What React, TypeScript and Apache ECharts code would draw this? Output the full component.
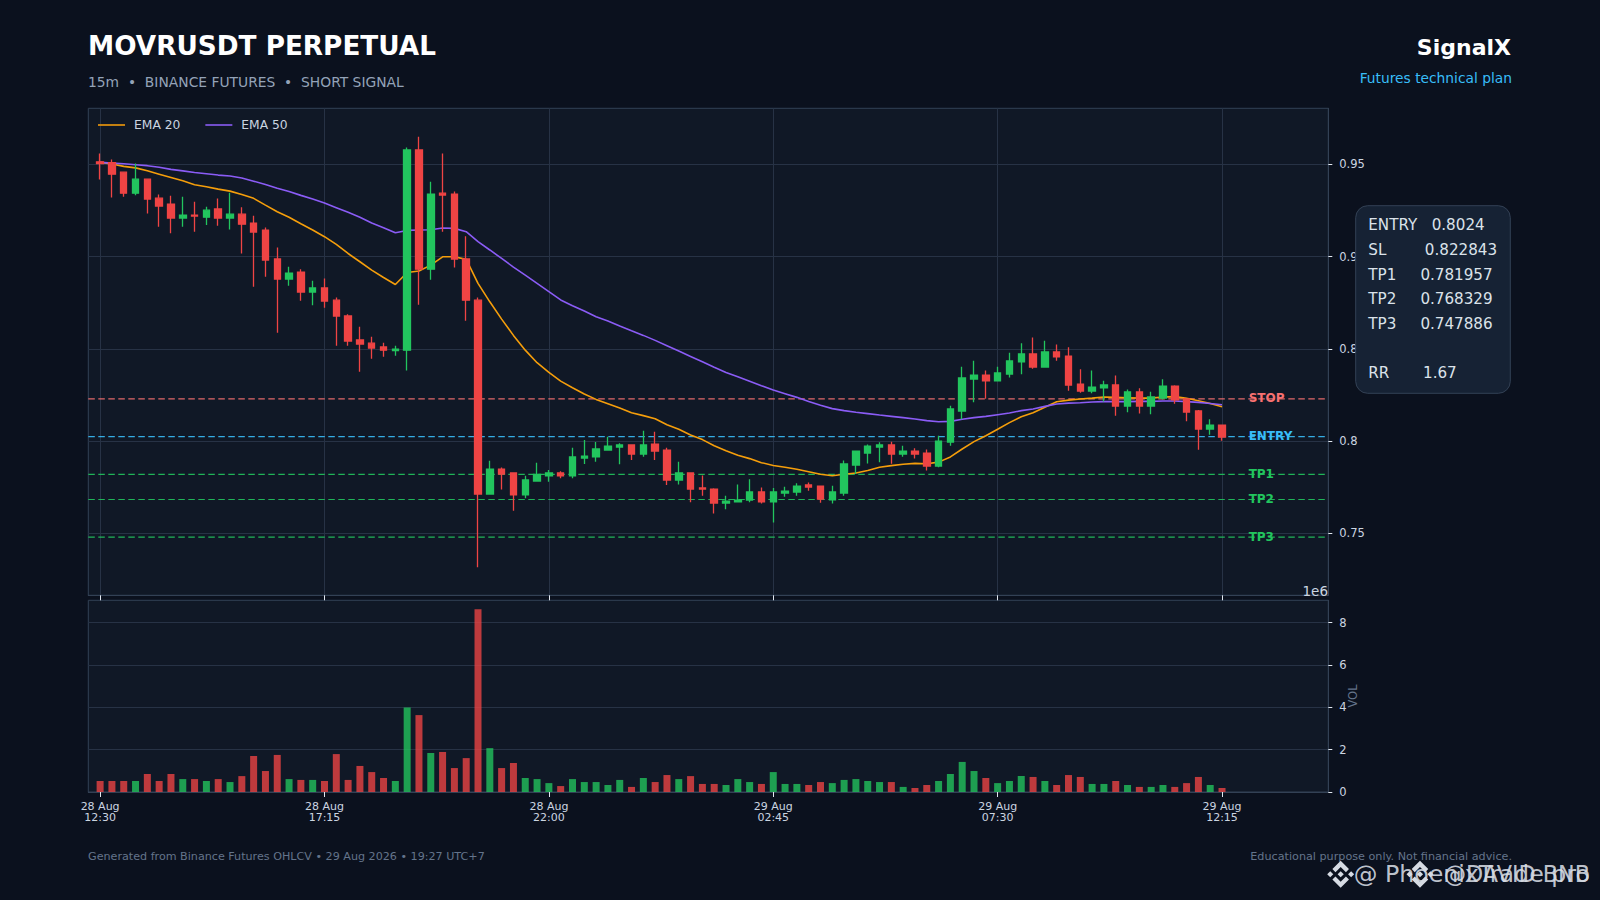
import React, { useEffect, useRef } from "react";
import * as echarts from "echarts";

const FONT = "DejaVu Sans";

const opens = [
  .9514,.9509,.9458,.9344,.9420,.9317,.9285,.9209,.9225,.9214,
  .9258,.9209,.9230,.9182,.9144,.8987,.8878,.8916,.8808,.8830,
  .8764,.8678,.8548,.8531,.8510,.8490,.8493,.9578,.8932,.9344,
  .9339,.8987,.8764,.7713,.7848,.7827,.7708,.7783,.7811,.7827,
  .7811,.7908,.7914,.7951,.7968,.7979,.7930,.7984,.7951,.7789,
  .7827,.7746,.7740,.7664,.7670,.7680,.7724,.7670,.7718,.7724,
  .7762,.7756,.7681,.7718,.7870,.7935,.7968,.7979,.7930,.7946,
  .7935,.7865,.7995,.8163,.8336,.8358,.8326,.8363,.8429,.8472,
  .8401,.8483,.8461,.8309,.8271,.8288,.8304,.8190,.8266,.8190,
  .8233,.8298,.8228,.8163,.8065,.8087,
];
const closes = [
  .9504,.9447,.9344,.9420,.9312,.9274,.9209,.9225,.9220,.9252,
  .9209,.9230,.9176,.9133,.8981,.8878,.8911,.8808,.8830,.8759,
  .8678,.8542,.8526,.8504,.8493,.8499,.9578,.8932,.9339,.9334,
  .8987,.8764,.7713,.7848,.7821,.7708,.7789,.7820,.7827,.7811,
  .7914,.7919,.7957,.7973,.7979,.7930,.7979,.7946,.7789,.7827,
  .7740,.7740,.7664,.7675,.7680,.7724,.7670,.7724,.7729,.7756,
  .7751,.7686,.7724,.7876,.7946,.7973,.7979,.7930,.7946,.7930,
  .7865,.8000,.8174,.8342,.8358,.8326,.8369,.8434,.8472,.8401,
  .8483,.8456,.8304,.8271,.8293,.8304,.8190,.8266,.8190,.8239,
  .8298,.8223,.8157,.8065,.8087,.8022,
];
const lows = [
  .9418,.9321,.9325,.9332,.9234,.9162,.9126,.9162,.9135,.9172,
  .9167,.9147,.9017,.8837,.8891,.8587,.8842,.8761,.8736,.8723,
  .8517,.8517,.8376,.8446,.8457,.8463,.8383,.8739,.8875,.9135,
  .8941,.8652,.7316,.7709,.7738,.7623,.7690,.7780,.7780,.7798,
  .7798,.7876,.7888,.7951,.7874,.7897,.7915,.7897,.7762,.7765,
  .7668,.7704,.7608,.7630,.7668,.7668,.7662,.7559,.7698,.7704,
  .7731,.7666,.7661,.7704,.7821,.7879,.7885,.7877,.7915,.7905,
  .7840,.7858,.7975,.8118,.8210,.8230,.8324,.8345,.8362,.8392,
  .8400,.8436,.8273,.8262,.8259,.8214,.8138,.8156,.8150,.8145,
  .8226,.8203,.8107,.7953,.8035,.8002,
];
const highs = [
  .9559,.9527,.9460,.9505,.9424,.9337,.9330,.9325,.9297,.9270,
  .9315,.9346,.9267,.9221,.9158,.9050,.8945,.8931,.8869,.8882,
  .8779,.8687,.8620,.8566,.8533,.8517,.9592,.9650,.9406,.9559,
  .9353,.9110,.8779,.7894,.7857,.7830,.7812,.7883,.7843,.7836,
  .7964,.8006,.7995,.8024,.7988,.7979,.8056,.8051,.7964,.7888,
  .7827,.7814,.7744,.7704,.7765,.7793,.7749,.7745,.7753,.7771,
  .7776,.7756,.7758,.7895,.7946,.7982,.7993,.7997,.7975,.7961,
  .7955,.8029,.8192,.8403,.8436,.8383,.8403,.8479,.8530,.8562,
  .8544,.8524,.8508,.8389,.8382,.8327,.8356,.8279,.8286,.8268,
  .8335,.8302,.8232,.8168,.8118,.8089,
];
const volumes = [
  .52,.52,.52,.52,.85,.52,.85,.61,.61,.52,
  .61,.47,.75,1.7,.99,1.75,.61,.57,.57,.52,
  1.79,.57,1.23,.94,.66,.52,3.99,3.63,1.84,1.89,
  1.13,1.6,8.63,2.07,1.13,1.37,.66,.61,.42,.28,
  .61,.47,.47,.33,.57,.24,.66,.47,.8,.61,
  .75,.38,.38,.33,.61,.47,.38,.94,.38,.38,
  .33,.47,.42,.57,.61,.52,.47,.47,.24,.19,
  .33,.52,.85,1.42,.99,.66,.42,.52,.75,.71,
  .52,.33,.8,.71,.38,.38,.52,.33,.24,.24,
  .33,.24,.42,.71,.33,.19,
];
const ema20 = [
  .9511,.9502,.9489,.9481,.9465,.9447,.9429,.9411,.9390,.9379,
  .9366,.9355,.9337,.9316,.9279,.9243,.9213,.9178,.9144,.9108,
  .9066,.9017,.8972,.8927,.8887,.8849,.8914,.8922,.8954,.8999,
  .8999,.8985,.8855,.8755,.8661,.8573,.8493,.8425,.8372,.8325,
  .8289,.8255,.8226,.8203,.8179,.8154,.8138,.8121,.8089,.8064,
  .8033,.8008,.7975,.7948,.7923,.7905,.7883,.7868,.7858,.7847,
  .7834,.7820,.7812,.7820,.7827,.7841,.7858,.7867,.7874,.7879,
  .7877,.7886,.7914,.7957,.7997,.8029,.8064,.8100,.8132,.8154,
  .8183,.8213,.8222,.8228,.8233,.8239,.8237,.8235,.8233,.8233,
  .8239,.8241,.8232,.8219,.8204,.8186,
];
const ema50 = [
  .9511,.9507,.9503,.9498,.9493,.9484,.9473,.9465,.9456,.9449,
  .9442,.9437,.9426,.9409,.9391,.9371,.9353,.9332,.9312,.9290,
  .9265,.9240,.9213,.9182,.9157,.9129,.9142,.9144,.9146,.9155,
  .9153,.9135,.9081,.9036,.8990,.8943,.8900,.8855,.8810,.8765,
  .8734,.8705,.8674,.8651,.8624,.8598,.8573,.8546,.8517,.8488,
  .8459,.8430,.8400,.8372,.8349,.8325,.8300,.8277,.8257,.8237,
  .8215,.8194,.8176,.8165,.8156,.8149,.8141,.8134,.8127,.8120,
  .8111,.8105,.8107,.8118,.8127,.8134,.8143,.8152,.8165,.8174,
  .8188,.8201,.8206,.8208,.8212,.8214,.8214,.8214,.8215,.8215,
  .8217,.8217,.8214,.8210,.8204,.8197,
];

const levelNames = ["STOP", "ENTRY", "TP1", "TP2", "TP3"];
const levelValues = [0.822843, 0.8024, 0.781957, 0.768329, 0.747886];
const levelColors = ["#f87171", "#38bdf8", "#22c55e", "#22c55e", "#22c55e"];

// one x position per 15-minute slot; the axis runs one slot before the first candle and 8 beyond the last
const axisSlots = ["12:15 pad"];
const tickLabels = [
  "28 Aug\n12:30", "28 Aug\n17:15", "28 Aug\n22:00",
  "29 Aug\n02:45", "29 Aug\n07:30", "29 Aug\n12:15",
];
const TICK_EVERY = 19;
for (let i = 0; i < 105; i++) {
  axisSlots.push(i % TICK_EVERY === 0 && tickLabels[i / TICK_EVERY] ? tickLabels[i / TICK_EVERY] : "slot" + i);
}
const isTickSlot = (index: number) => (index - 1) % TICK_EVERY === 0 && index >= 1 && index <= 96;

const panelLines = [
  "ENTRY   0.8024",
  "SL        0.822843",
  "TP1     0.781957",
  "TP2     0.768329",
  "TP3     0.747886",
  "",
  "RR       1.67",
];
const priceTicks = [0.75, 0.8, 0.85, 0.9, 0.95];
const volumeTicks = [0, 2, 4, 6, 8];

const BG = "#0b111e";
const PLOT = "#101826";
const SPINE = "#334155";
const GRIDLINE = "#273245";
const TEXT = "#cbd5e1";
const UP = "#22c55e";
const DOWN = "#ef4444";

const LOGO =
  "M38.73 53.2l24.59-24.58 24.6 24.6 14.3-14.31L63.32 0 24.43 38.9l14.3 14.3zM0 63.31l14.3-14.31 14.31 14.31-14.31 14.3zM38.73 73.41l24.59 24.59 24.6-24.6 14.31 14.29-38.9 38.91-38.91-38.88v-.03l14.31-14.28zM98 63.31l14.3-14.3 14.31 14.3-14.31 14.31zM77.83 63.3L63.32 48.78 52.59 59.51l-1.24 1.23-2.54 2.54 14.51 14.5 14.51-14.47z";
echarts.graphic.registerShape("binanceLogo", echarts.graphic.extendPath(LOGO as any, {} as any));

function buildOption(): any {
  const gridFor = (i: number) => ({ xAxisIndex: i, yAxisIndex: i });
  const candleData: any[] = [["-", "-", "-", "-"]];
  opens.forEach((o, i) => candleData.push([o, closes[i], lows[i], highs[i]]));
  const volumeData: any[] = ["-"];
  volumes.forEach((v, i) =>
    volumeData.push({
      value: v,
      itemStyle: { color: closes[i] >= opens[i] ? UP : DOWN, opacity: 0.78 },
    })
  );
  const xAxis = (gridIndex: number, showLabel: boolean) => ({
    type: "category",
    gridIndex,
    data: axisSlots,
    boundaryGap: false,
    axisLine: { show: true, lineStyle: { color: SPINE, width: 1 } },
    axisTick: {
      show: true,
      length: 5,
      interval: (i: number) => isTickSlot(i),
      lineStyle: { color: "#e2e8f0", width: 1 },
    },
    splitLine: {
      show: gridIndex === 0 || false,
      interval: (i: number) => isTickSlot(i),
      lineStyle: { color: GRIDLINE, width: 1 },
    },
    axisLabel: {
      show: showLabel,
      interval: (i: number) => isTickSlot(i),
      color: TEXT,
      fontSize: 11,
      lineHeight: 11,
      margin: 9,
      fontFamily: FONT,
      hideOverlap: false,
    },
  });
  const yAxis = (gridIndex: number, min: number, max: number, ticks: number[]) => ({
    type: "value",
    gridIndex,
    position: "right",
    min,
    max,
    scale: true,
    axisLine: { show: true, lineStyle: { color: SPINE, width: 1 } },
    axisTick: { show: true, length: 4, customValues: ticks, lineStyle: { color: "#e2e8f0", width: 1 } },
    splitLine: { show: true, lineStyle: { color: GRIDLINE, width: 1 } },
    axisLabel: {
      customValues: ticks,
      formatter: (v: number) => String(v),
      color: TEXT,
      fontSize: 11.5,
      margin: 11,
      fontFamily: FONT,
      showMinLabel: true,
      showMaxLabel: true,
    },
  });

  const levelSeries = levelNames.map((name, k) => ({
    name,
    type: "line",
    ...gridFor(0),
    z: 1,
    silent: true,
    symbol: "none",
    data: axisSlots.map(() => levelValues[k]),
    lineStyle: { color: levelColors[k], width: 1.2, type: [6.5, 3.5], opacity: 0.9 },
    markPoint: {
      silent: true,
      symbol: "circle",
      symbolSize: 0,
      data: [{ coord: [98, levelValues[k]] }],
      label: {
        show: true,
        position: "right",
        distance: 3,
        offset: [0, -0.5],
        formatter: name,
        color: levelColors[k],
        fontSize: 12,
        fontWeight: "bold",
        fontFamily: FONT,
      },
    },
  }));

  const textAt = (x: number, y: number, text: string, fill: string, font: string, align = "left", z = 20, extra: any = {}) => ({
    type: "text",
    x,
    y,
    z,
    silent: true,
    style: { text, fill, font, textAlign: align, textVerticalAlign: "middle", ...extra },
  });

  return {
    animation: false,
    backgroundColor: BG,
    textStyle: { fontFamily: FONT },
    legend: {
      data: ["EMA 20", "EMA 50"],
      left: 98,
      top: 119,
      padding: 0,
      icon: "rect",
      itemWidth: 27,
      itemHeight: 1.8,
      itemGap: 25,
      selectedMode: false,
      textStyle: { color: TEXT, fontSize: 12.3, fontFamily: FONT, padding: [0, 0, 0, 4] },
    },
    grid: [
      { left: 88.3, top: 108.3, width: 1240, height: 487, show: true, backgroundColor: PLOT, borderColor: SPINE, borderWidth: 1 },
      { left: 88.3, top: 600.3, width: 1240, height: 191.7, show: true, backgroundColor: PLOT, borderColor: SPINE, borderWidth: 1 },
    ],
    xAxis: [xAxis(0, false), xAxis(1, true)],
    yAxis: [
      yAxis(0, 0.7164, 0.9804, priceTicks),
      yAxis(1, 0, 9.05, volumeTicks),
    ],
    series: [
      ...levelSeries,
      {
        name: "EMA 20",
        type: "line",
        ...gridFor(0),
        z: 2,
        symbol: "none",
        data: ["-", ...ema20],
        itemStyle: { color: "#d98c0e" },
        lineStyle: { color: "#f59e0b", width: 1.6 },
      },
      {
        name: "EMA 50",
        type: "line",
        ...gridFor(0),
        z: 3,
        symbol: "none",
        data: ["-", ...ema50],
        itemStyle: { color: "#7c54dc" },
        lineStyle: { color: "#8b5cf6", width: 1.6 },
      },
      {
        name: "Price",
        type: "candlestick",
        ...gridFor(0),
        z: 4,
        barWidth: 7,
        data: candleData,
        itemStyle: {
          color: UP,
          color0: DOWN,
          borderColor: UP,
          borderColor0: DOWN,
          borderColorDoji: DOWN,
          borderWidth: 1.3,
        },
      },
      {
        name: "Volume",
        type: "bar",
        ...gridFor(1),
        barWidth: 7,
        data: volumeData,
      },
    ],
    graphic: {
      elements: [
        textAt(88, 46, "MOVRUSDT PERPETUAL", "#ffffff", `bold 26.3px '${FONT}'`),
        textAt(88, 81.5, "15m  \u2022  BINANCE FUTURES  \u2022  SHORT SIGNAL", "#94a3b8", `13.85px '${FONT}'`),
        textAt(1511, 47, "SignalX", "#ffffff", `bold 22px '${FONT}'`, "right"),
        textAt(1512, 78, "Futures technical plan", "#38bdf8", `13.8px '${FONT}'`, "right"),
        {
          type: "rect",
          z: 15,
          silent: true,
          shape: { x: 1355.7, y: 205.7, width: 154.6, height: 187.6, r: 12 },
          style: { fill: "#162234", stroke: SPINE, lineWidth: 1 },
        },
        ...panelLines.map((line, i) =>
          textAt(1368.3, 225.4 + i * 24.6, line, "#dbe2ea", `15.15px '${FONT}'`, "left", 16)
        ),
        textAt(1328, 591, "1e6", TEXT, `13.5px '${FONT}'`, "right"),
        {
          type: "text",
          x: 1353,
          y: 696,
          z: 20,
          silent: true,
          rotation: Math.PI / 2,
          style: { text: "VOL", fill: "#64748b", font: `11.5px '${FONT}'`, textAlign: "center", textVerticalAlign: "middle" },
        },
        textAt(88, 856, "Generated from Binance Futures OHLCV \u2022 29 Aug 2026 \u2022 19:27 UTC+7", "#64748b", `11.15px '${FONT}'`),
        textAt(1512, 856, "Educational purpose only. Not financial advice.", "#64748b", `11.2px '${FONT}'`, "right"),
        {
          type: "binanceLogo",
          x: 1327.2,
          y: 860.8,
          scaleX: 0.213,
          scaleY: 0.213,
          z: 21,
          silent: true,
          style: { fill: "#d6dbe3" },
        },
        {
          type: "binanceLogo",
          x: 1406.5,
          y: 860.8,
          scaleX: 0.213,
          scaleY: 0.213,
          z: 21,
          silent: true,
          style: { fill: "#d6dbe3" },
        },
        textAt(1590, 874, "@ PhoenixTrade pro", "#d6dbe3", `23.7px '${FONT}'`, "right", 21, { opacity: 0.9 }),
        textAt(1590, 874, "@DAVID BNB", "#d6dbe3", `22.3px '${FONT}'`, "right", 21, { opacity: 0.9 }),
      ],
    },
  };
}

export default function App() {
  const ref = useRef<HTMLDivElement>(null);
  useEffect(() => {
    document.body.style.margin = "0";
    document.body.style.background = BG;
    const chart = echarts.init(ref.current!, undefined, { renderer: "svg" });
    chart.setOption(buildOption());
    return () => chart.dispose();
  }, []);
  return <div ref={ref} style={{ position: "fixed", left: 0, top: 0, width: 1600, height: 900 }} />;
}
